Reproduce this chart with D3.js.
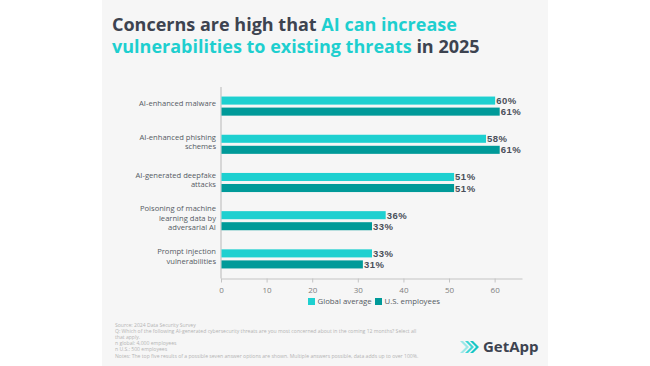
<!DOCTYPE html>
<html>
<head>
<meta charset="utf-8">
<script src="https://cdn.jsdelivr.net/npm/d3@7"></script>
<style>
  body { margin: 0; background: #fff; }
  svg text { font-family: "Open Sans", "Noto Sans", sans-serif; }
</style>
</head>
<body>
<div class="chart"></div>
<script>
const categories = [
  ["AI-enhanced malware"],
  ["AI-enhanced phishing", "schemes"],
  ["AI-generated deepfake", "attacks"],
  ["Poisoning of machine", "learning data by", "adversarial AI"],
  ["Prompt injection", "vulnerabilities"]
];
const seriesNames = ["Global average", "U.S. employees"];
const globalValues = [60, 58, 51, 36, 33];
const usValues = [61, 61, 51, 33, 31];
const xTicks = [0, 10, 20, 30, 40, 50, 60];
const footnotes = [
  "Source: 2024 Data Security Survey",
  "Q: Which of the following AI-generated cybersecurity threats are you most concerned about in the coming 12 months? Select all",
  "that apply.",
  "n global: 4,000 employees",
  "n U.S.: 500 employees",
  "Notes: The top five results of a possible seven answer options are shown. Multiple answers possible, data adds up to over 100%."
];

const W = 650, H = 366;
const colors = {"Global average": "#1ed0d0", "U.S. employees": "#009a99"};
const dark = "#3d4350";

const rows = categories.map((c, i) => ({
  key: i, lines: c,
  vals: [{s: seriesNames[0], v: globalValues[i]}, {s: seriesNames[1], v: usValues[i]}]
}));

let svg = d3.select('.chart').append('svg')
  .attr('width', W)
  .attr('height', H);

// grey panel
svg.append('rect')
  .attr('x', 102).attr('y', 0)
  .attr('width', 446).attr('height', H)
  .attr('fill', '#f6f6f6');

// title
const title = svg.append('text')
  .attr('x', 112).attr('y', 31)
  .attr('font-size', 18)
  .attr('font-weight', 700)
  .attr('fill', dark);
title.append('tspan').text('Concerns are high that ');
title.append('tspan').attr('fill', '#1ecfcf').text('AI can increase');
const title2 = svg.append('text')
  .attr('x', 112).attr('y', 53)
  .attr('font-size', 18)
  .attr('font-weight', 700)
  .attr('fill', dark);
title2.append('tspan').attr('fill', '#1ecfcf').text('vulnerabilities to existing threats');
title2.append('tspan').text(' in 2025');

const x = d3.scaleLinear()
  .domain([0, 66])
  .range([221, 522]);

const y0 = d3.scaleBand()
  .domain(rows.map(d => d.key))
  .range([87, 278])
  .paddingInner(0.5)
  .paddingOuter(0.25);

const y1 = d3.scaleBand()
  .domain(seriesNames)
  .range([0, y0.bandwidth()])
  .paddingInner(0.27);

// x axis
const xAxis = d3.axisBottom(x)
  .tickValues(xTicks)
  .tickSize(4)
  .tickSizeOuter(0);

let X = svg.append('g')
  .attr('transform', 'translate(0,278.5)')
  .call(xAxis);
X.select('.domain').attr('stroke', '#c4c4c4');
X.selectAll('.tick line').attr('stroke', '#c4c4c4');
X.selectAll('.tick text')
  .attr('fill', '#808080')
  .attr('font-size', 8)
  .attr('dy', '0.9em')
  .style('font-family', '"Open Sans", sans-serif');

// y axis line
svg.append('line')
  .attr('x1', x(0)).attr('x2', x(0))
  .attr('y1', 87).attr('y2', 278.5)
  .attr('stroke', '#b8b8b8');

// category labels
const cat = svg.append('g').selectAll('text')
  .data(rows)
  .enter()
  .append('text')
  .attr('text-anchor', 'end')
  .attr('font-size', 7.6)
  .attr('fill', '#555a63')
  .attr('x', 216)
  .attr('y', d => y0(d.key) + y0.bandwidth() / 2 - (d.lines.length - 1) * 9.6 / 2)
  .attr('dy', '0.35em');
cat.selectAll('tspan')
  .data(d => d.lines)
  .enter()
  .append('tspan')
  .attr('x', 216)
  .attr('dy', (d, i) => i === 0 ? 0 : 9.6)
  .text(d => d);

// bars
const grp = svg.append('g').selectAll('g')
  .data(rows)
  .enter()
  .append('g')
  .attr('transform', d => 'translate(0,' + y0(d.key) + ')');

grp.selectAll('rect')
  .data(d => d.vals)
  .enter()
  .append('rect')
  .attr('x', x(0) + 0.5)
  .attr('y', d => y1(d.s))
  .attr('width', d => x(d.v) - x(0))
  .attr('height', y1.bandwidth())
  .attr('fill', d => colors[d.s]);

grp.selectAll('text')
  .data(d => d.vals)
  .enter()
  .append('text')
  .attr('x', d => x(d.v) + 1.5)
  .attr('y', d => y1(d.s) + y1.bandwidth() / 2)
  .attr('dy', '0.37em')
  .attr('font-size', 9.5)
  .attr('font-weight', 700)
  .attr('letter-spacing', 0.5)
  .attr('fill', '#4a4f59')
  .style('font-family', '"Liberation Sans", Arial, sans-serif')
  .text(d => d.v + '%');

// legend
const leg = svg.append('g')
  .attr('transform', 'translate(308,298)');
const legX = [0, 67];
seriesNames.forEach((s, i) => {
  leg.append('rect')
    .attr('x', legX[i]).attr('y', 0)
    .attr('width', 7).attr('height', 7)
    .attr('fill', colors[s]);
  leg.append('text')
    .attr('x', legX[i] + 9.5).attr('y', 3.7)
    .attr('dy', '0.35em')
    .attr('font-size', 7.8)
    .attr('fill', '#555a63')
    .text(s);
});

// footnotes
svg.append('g').selectAll('text')
  .data(footnotes)
  .enter()
  .append('text')
  .attr('x', 115)
  .attr('y', (d, i) => 327 + i * 6.1)
  .attr('font-size', 5.1)
  .attr('fill', '#b4b4b4')
  .text(d => d);

// logo
const logo = svg.append('g').attr('transform', 'translate(463,347)');
[0, 5, 10].forEach((o, i) => {
  logo.append('path')
    .attr('d', `M${o},-6 L${o + 6},0 L${o},6 L${o - 3},6 L${o + 3},0 L${o - 3},-6 Z`)
    .attr('fill', ['#9be8e8', '#3fd6d6', '#16c6c6'][i]);
});
logo.append('text')
  .attr('x', 20).attr('y', 0)
  .attr('dy', '0.36em')
  .attr('font-size', 15)
  .attr('font-weight', 700)
  .attr('fill', dark)
  .text('GetApp');
</script>
</body>
</html>
